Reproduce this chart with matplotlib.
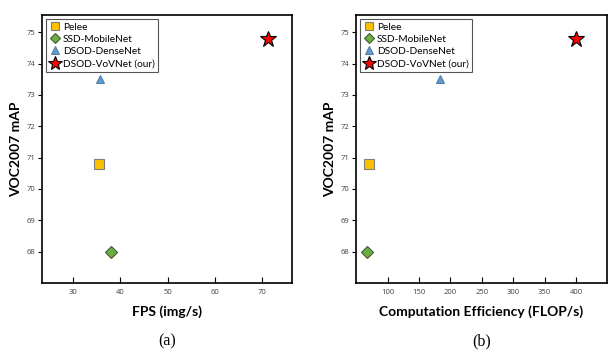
import matplotlib
matplotlib.use("Agg")
import matplotlib.pyplot as plt

# ---- data ----
models = ["Pelee", "SSD-MobileNet", "DSOD-DenseNet", "DSOD-VoVNet (our)"]
fps = [35.4, 38.0, 35.6, 71.3]
flops = [70.4, 66.6, 184.0, 399.4]
mAP = [70.8, 68.0, 73.5, 74.8]

yticks = [68, 69, 70, 71, 72, 73, 74, 75]
fps_ticks = [30, 40, 50, 60, 70]
flop_ticks = [100, 150, 200, 250, 300, 350, 400]

# ---- style per model ----
markers = ["s", "D", "^", "*"]
colors = ["#FFC000", "#70AD47", "#5B9BD5", "#FF0000"]
edges = ["#7f7f7f", "#3f5f2a", "#5b7fa0", "#000000"]
sizes = [6.5, 6, 6, 12]

plt.rcParams["font.family"] = ["Open Sans", "DejaVu Sans"]

fig = plt.figure(figsize=(6.16, 3.57), dpi=100)
ax1 = fig.add_axes([42/616, 1 - 283/357, 250/616, 268/357])
ax2 = fig.add_axes([356/616, 1 - 283/357, 251/616, 268/357])


def draw(ax, xs, xticks, xlim, xlabel, tag):
    for i in range(len(models)):
        ax.plot(xs[i], mAP[i], linestyle="none", marker=markers[i],
                markersize=sizes[i], markerfacecolor=colors[i],
                markeredgecolor=edges[i], markeredgewidth=0.8,
                label=models[i])
    ax.set_xlim(*xlim)
    ax.set_ylim(67.0, 75.55)
    ax.set_xticks(xticks)
    ax.set_yticks(yticks)
    ax.tick_params(axis="x", direction="in", length=4, width=0.8,
                   labelsize=5.5, labelcolor="#404040", pad=4)
    ax.tick_params(axis="y", direction="out", length=3, width=0.8,
                   labelsize=5.5, labelcolor="#404040", pad=2)
    for s in ax.spines.values():
        s.set_linewidth(1.2)
    ax.set_xlabel(xlabel, fontsize=10, fontweight="bold", labelpad=7,
                  family="Lato")
    ax.set_ylabel("VOC2007 mAP", fontsize=10, fontweight="bold",
                  family="Lato")
    ax.yaxis.set_label_coords(-0.08, 0.5)
    leg = ax.legend(loc="upper left", handletextpad=0.3,
                    handlelength=1.0, borderpad=0.35, labelspacing=0.3,
                    fancybox=False, framealpha=1, borderaxespad=0.4,
                    markerscale=0.9, prop={"family": "Lato", "size": 7.3})
    leg.get_frame().set_edgecolor("#555555")
    leg.get_frame().set_linewidth(0.8)
    fig.text((ax.get_position().x0 + ax.get_position().x1) / 2, 1 - 341/357,
             tag, ha="center", va="center", fontsize=11.5,
             family="Liberation Serif")


draw(ax1, fps, fps_ticks, (23.4, 76.3), "FPS (img/s)", "(a)")
draw(ax2, flops, flop_ticks, (49.7, 449.4), "Computation Efficiency (FLOP/s)", "(b)")

fig.savefig("out.png", dpi=100)
